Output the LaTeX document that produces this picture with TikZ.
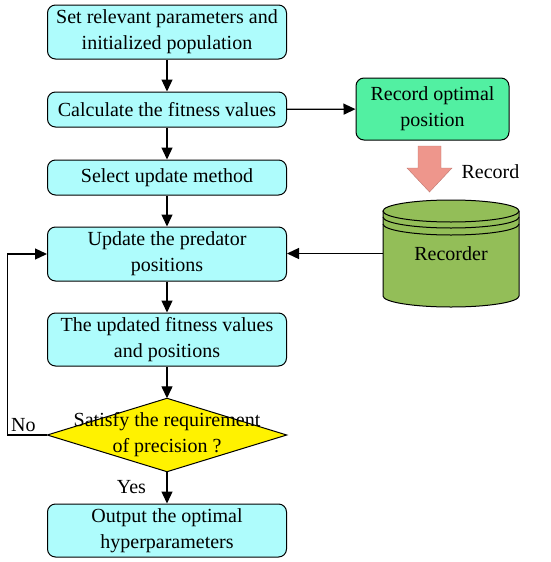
\documentclass[tikz,border=0pt]{standalone}
\usepackage{fontspec}
\setmainfont{Liberation Serif}
\usetikzlibrary{positioning,arrows.meta}

\definecolor{boxcyan}{HTML}{AEFCFC}
\definecolor{recgreen}{HTML}{52F0A2}
\definecolor{cylgreen}{HTML}{93BE58}
\definecolor{pinkarrow}{HTML}{EE968C}

\begin{document}
\begin{tikzpicture}
[
  x=1pt, y=-1pt,
  stepbox/.style={rectangle, rounded corners=8pt, draw, line width=1pt, fill=boxcyan,
    minimum width=239pt, align=center, inner sep=2pt},
  recbox/.style={stepbox, fill=recgreen, minimum width=153pt, minimum height=62pt},
  decision/.style={rectangle, minimum width=239pt, minimum height=73pt, inner sep=0pt, align=center},
  flow/.style={-{Triangle[length=12pt,width=11pt]}, line width=1.3pt},
  node distance=2cm,
  on grid,
  font=\fontsize{20}{26}\selectfont
]
 \useasboundingbox (0,0) rectangle (550,562);

 \node[stepbox, minimum height=54pt] (init) at (167,32) {Set relevant parameters and\\initialized population};
 \node[stepbox, minimum height=35pt] (fit) [below=77.5pt of init] {Calculate the fitness values};
 \node[stepbox, minimum height=35pt] (select) [below=68pt of fit] {Select update method};
 \node[stepbox, minimum height=54pt] (update) [below=76.5pt of select] {Update the predator\\positions};
 \node[stepbox, minimum height=53pt] (updated) [below=85.5pt of update] {The updated fitness values\\and positions};
 \node[decision] (check) [below=95.5pt of updated] {};
 \filldraw[fill=yellow, line width=1pt] (check.north) -- (check.east) -- (check.south) -- (check.west) -- cycle;
 \node at (check) [align=center] {Satisfy the requirement\\of precision ?};
 \node[stepbox, minimum height=53pt] (output) [below=95.5pt of check] {Output the optimal\\hyperparameters};

 \node[recbox] (best) at (432.5,109) {Record optimal\\position};

 % recorder cylinder
 \node[rectangle, minimum width=136pt, minimum height=107pt, inner sep=0pt] (rec) at (451,253.5) {};
 \fill[cylgreen] (383,211) -- (383,296) arc[start angle=180, end angle=360, x radius=68pt, y radius=11pt]
   -- (519,211) arc[start angle=0, end angle=180, x radius=68pt, y radius=11pt] -- cycle;
 \draw[line width=1pt] (383,211) -- (383,296) arc[start angle=180, end angle=360, x radius=68pt, y radius=11pt] -- (519,211);
 \draw[line width=1pt] (451,211) ellipse[x radius=68pt, y radius=11pt];
 \draw[line width=1pt] (383,217) arc[start angle=180, end angle=360, x radius=68pt, y radius=11pt];
 \draw[line width=1pt] (383,224) arc[start angle=180, end angle=360, x radius=68pt, y radius=11pt];
 \node at (rec) {Recorder};

 % record arrow
 \fill[pinkarrow, draw=pinkarrow!80!black, line width=0.4pt]
   (418,146) -- (441,146) -- (441,168) -- (452,168) -- (429.5,192) -- (407,168) -- (418,168) -- cycle;
 \node[anchor=west] (reclabel) at (458,172) {Record};

 \draw[flow] (init) -- (fit);
 \draw[flow] (fit) -- (select);
 \draw[flow] (select) -- (update);
 \draw[flow] (update) -- (updated);
 \draw[flow] (updated) -- (check);
 \draw[flow] (check) -- node[left=17pt, pos=0.48] {Yes} (output);
 \draw[flow] (fit) -- (best);
 \draw[flow] (rec.west) -- (rec.west -| update.east);
 \draw[flow] (check.west) -- node[above=-1pt, pos=0.6] {No} ++(-40,0) |- (update.west);
\end{tikzpicture}
\end{document}
